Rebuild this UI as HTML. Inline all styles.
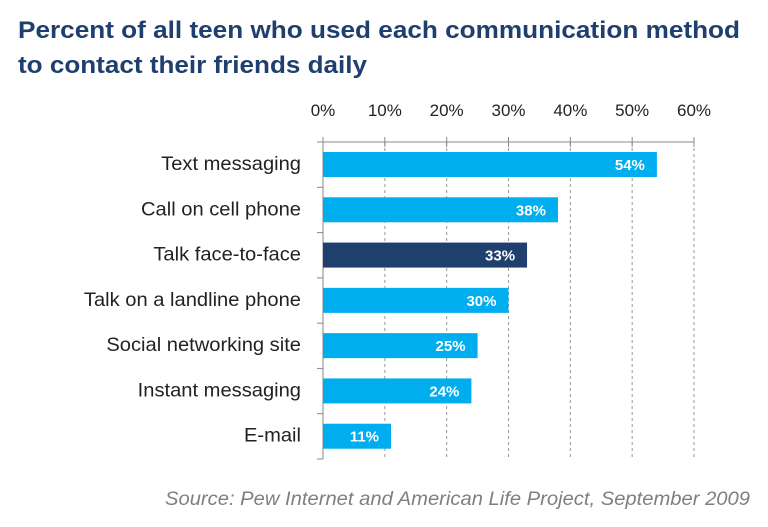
<!DOCTYPE html>
<html><head><meta charset="utf-8"><style>
body{margin:0;background:#fff;width:768px;height:522px;overflow:hidden;font-family:"Liberation Sans",sans-serif}
</style></head><body>
<svg width="768" height="522" xmlns="http://www.w3.org/2000/svg">
<text x="18" y="38" font-size="24" font-weight="bold" fill="#1f3f6e" textLength="722" lengthAdjust="spacingAndGlyphs">Percent of all teen who used each communication method</text>
<text x="18" y="73" font-size="24" font-weight="bold" fill="#1f3f6e" textLength="349" lengthAdjust="spacingAndGlyphs">to contact their friends daily</text>
<g id="plot"></g>
<text x="750" y="505" font-size="19" font-style="italic" fill="#7f7f7f" text-anchor="end" textLength="585" lengthAdjust="spacingAndGlyphs">Source: Pew Internet and American Life Project, September 2009</text>
</svg>
<script>
const categories=["Text messaging","Call on cell phone","Talk face-to-face","Talk on a landline phone","Social networking site","Instant messaging","E-mail"];
const values=[54,38,33,30,25,24,11];
const highlight=[false,false,true,false,false,false,false];
const ticks=[0,10,20,30,40,50,60];
const NS="http://www.w3.org/2000/svg";
const g=document.getElementById('plot');
const x0=323,x1=694,yTop=142,yBot=459;
const xs=v=>x0+(v/60)*(x1-x0);
const band=(yBot-yTop)/categories.length;
function mk(t,a){const e=document.createElementNS(NS,t);for(const k in a)e.setAttribute(k,a[k]);g.appendChild(e);return e;}
ticks.forEach(t=>{
  const x=xs(t);
  if(t>0){const l=mk('line',{x1:x,y1:yTop,x2:x,y2:yBot,stroke:'#999','stroke-dasharray':'3,3'});
  
  }
  const tk=mk('line',{x1:x,y1:yTop-5,x2:x,y2:yTop+5,stroke:'#888'});
  
  
  const tx=mk('text',{x:x,y:116,'font-size':17,fill:'#222','text-anchor':'middle'});
  tx.textContent=t+'%';
  
  
});
const ax=mk('line',{x1:317,y1:yTop,x2:x1,y2:yTop,stroke:'#888'});


const ay=mk('line',{x1:x0,y1:yTop,x2:x0,y2:yBot,stroke:'#888'});


for(let i=0;i<=categories.length;i++){
  const y=yTop+i*band;
  const t=mk('line',{x1:317,y1:y,x2:x0,y2:y,stroke:'#888'});
  
  
}
categories.forEach((c,i)=>{
  const y=yTop+i*band+10;
  const r=mk('rect',{x:x0,y:y,width:xs(values[i])-x0,height:25,fill:highlight[i]?'#1f3f6e':'#00aeef'});
  
  
  const lb=mk('text',{x:xs(values[i])-12,y:y+18,'font-size':15,'font-weight':'bold',fill:'#fff','text-anchor':'end'});
  lb.textContent=values[i]+'%';
  
  
  const cl=mk('text',{x:301,y:y+18,'font-size':19,fill:'#222','text-anchor':'end',transform:'translate(301,0) scale(1.06,1) translate(-301,0)'});
  cl.textContent=c;
  
  
});
</script>
</body></html>
